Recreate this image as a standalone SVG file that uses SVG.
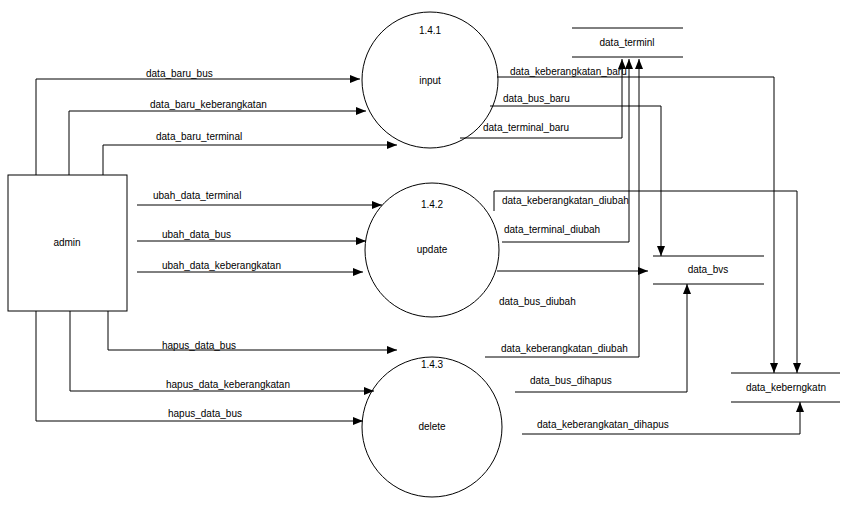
<svg xmlns="http://www.w3.org/2000/svg" width="849" height="517" viewBox="0 0 849 517">
<style>
text{font-family:"Liberation Sans",Arial,sans-serif;font-size:10px;fill:#000}
.c{fill:none;stroke:#000;stroke-width:1}
.p{fill:#fff;stroke:#000;stroke-width:1}
.l{text-anchor:middle}
</style>
<defs><marker id="a" viewBox="0 0 10 10" refX="10" refY="5" markerWidth="10" markerHeight="10" markerUnits="userSpaceOnUse" orient="auto"><path d="M0,1 L10,5 L0,9 z" fill="#000"/></marker></defs>
<rect width="849" height="517" fill="#fff"/>
<g id="admin"><rect class="p" x="8" y="175" width="119" height="136"/><text x="67" y="246" class="l">admin</text></g>
<g id="input"><circle class="p" cx="430" cy="80" r="68"/><text x="430" y="34" class="l">1.4.1</text><text x="430" y="84" class="l">input</text></g>
<g id="update"><circle class="p" cx="432" cy="250" r="67"/><text x="432" y="208" class="l">1.4.2</text><text x="432" y="253" class="l">update</text></g>
<g id="delete"><circle class="p" cx="432" cy="427" r="70"/><text x="432" y="368" class="l">1.4.3</text><text x="432" y="430" class="l">delete</text></g>
<g id="data_terminl"><path class="c" d="M572,28H683M572,57H683"/><text x="627" y="46" class="l">data_terminl</text></g>
<g id="data_bvs"><path class="c" d="M653,256H764M653,284H764"/><text x="708" y="273" class="l">data_bvs</text></g>
<g id="data_kebergkatn"><path class="c" d="M731,373H840M731,402H840"/><text x="786" y="391" class="l">data_keberngkatn</text></g>
<g id="connectors" class="c" marker-end="url(#a)">
<path class="c" d="M36,175V79H360"/>
<path class="c" d="M69,175V111H366"/>
<path class="c" d="M103,175V145H397"/>
<path class="c" d="M137,205H382"/>
<path class="c" d="M137,241H366"/>
<path class="c" d="M137,272H363"/>
<path class="c" d="M108,311V350H397"/>
<path class="c" d="M70,311V391H374"/>
<path class="c" d="M36,311V421H363"/>
<path class="c" d="M497,77H774V373"/>
<path class="c" d="M490,106H661V256"/>
<path class="c" d="M460,138H622V59"/>
<path class="c" d="M494,211V191H797V373"/>
<path class="c" d="M502,242H629V59"/>
<path class="c" d="M497,271H648"/>
<path class="c" d="M485,357H639V59"/>
<path class="c" d="M515,392H687V284"/>
<path class="c" d="M522,434H800V402"/>
</g>
<g id="labels">
<text x="146" y="77">data_baru_bus</text>
<text x="150" y="108">data_baru_keberangkatan</text>
<text x="156" y="140">data_baru_terminal</text>
<text x="153" y="199">ubah_data_terminal</text>
<text x="162" y="238">ubah_data_bus</text>
<text x="162" y="269">ubah_data_keberangkatan</text>
<text x="162" y="349">hapus_data_bus</text>
<text x="166" y="388">hapus_data_keberangkatan</text>
<text x="168" y="417">hapus_data_bus</text>
<text x="510" y="75">data_keberangkatan_baru</text>
<text x="503" y="102">data_bus_baru</text>
<text x="483" y="131">data_terminal_baru</text>
<text x="502" y="204">data_keberangkatan_diubah</text>
<text x="504" y="233">data_terminal_diubah</text>
<text x="499" y="305">data_bus_diubah</text>
<text x="501" y="352">data_keberangkatan_diubah</text>
<text x="530" y="384">data_bus_dihapus</text>
<text x="537" y="428">data_keberangkatan_dihapus</text>
</g>
</svg>
